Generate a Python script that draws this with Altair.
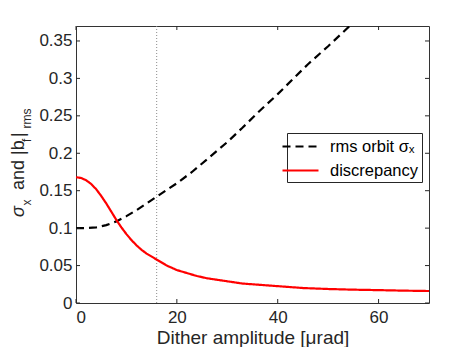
import altair as alt
import pandas as pd

FONT = "Liberation Sans"
TXT = "#262626"

# --- data ---
orbit_x = [0, 2, 4, 6, 8, 10, 12, 14, 16, 18, 20, 23, 26, 30, 33, 36, 40, 43, 46, 50, 53, 56]
orbit_y = [0.100, 0.100, 0.101, 0.104, 0.109, 0.116, 0.124, 0.133, 0.142, 0.151, 0.160,
           0.175, 0.192, 0.215, 0.234, 0.254, 0.279, 0.299, 0.319, 0.343, 0.362, 0.381]
disc_x = [0, 1, 2, 3, 4, 5, 6, 7, 8, 9, 10, 11, 12, 13, 14, 16, 18, 20, 22, 24, 26, 28, 30,
          33, 36, 40, 45, 50, 55, 60, 65, 70]
disc_y = [0.168, 0.167, 0.164, 0.159, 0.152, 0.143, 0.133, 0.122, 0.111, 0.101, 0.092, 0.084,
          0.077, 0.071, 0.066, 0.058, 0.050, 0.044, 0.040, 0.036, 0.033, 0.031, 0.029,
          0.026, 0.0245, 0.0225, 0.020, 0.0187, 0.0178, 0.0172, 0.0165, 0.016]
series_names = ["rms orbit σₓ", "discrepancy"]
series_colors = ["#000000", "#ff0000"]
series_dash = [[8, 5], [1, 0]]
x_ticks = [0, 20, 40, 60]
y_ticks = [0, 0.05, 0.1, 0.15, 0.2, 0.25, 0.3, 0.35]
marker_x = [16]
x_title = "Dither amplitude [μrad]"

W, H = 353, 277

df = pd.DataFrame({
    "x": orbit_x + disc_x,
    "y": orbit_y + disc_y,
    "series": [series_names[0]] * len(orbit_x) + [series_names[1]] * len(disc_x),
})

xscale = alt.Scale(domain=[0, 70], nice=False, zero=False)
yscale = alt.Scale(domain=[0, 0.37], nice=False, zero=False)
xaxis = alt.Axis(values=x_ticks, title=x_title, labelPadding=6, titlePadding=3,
                 titleFontSize=19, titleFontWeight="normal", labelFontSize=17,
                 labelFont=FONT, labelColor=TXT, titleFont=FONT, titleColor=TXT)
yaxis = alt.Axis(values=y_ticks, format=".2~f", title="", labelPadding=4, labelFontSize=17,
                 labelFont=FONT, labelColor=TXT, labelOverlap=False)

leg = alt.Legend(orient="none", legendX=211, legendY=107, title=None,
                 symbolType="M-2,0L2,0", symbolSize=324, symbolStrokeWidth=2.2,
                 labelFontSize=16.5, labelFont=FONT, labelColor="#000000", labelOffset=19,
                 padding=3, rowPadding=5, strokeColor="#262626", fillColor="white",
                 cornerRadius=0)

lines = alt.Chart(df).mark_line(clip=True, strokeWidth=2.2).encode(
    x=alt.X("x:Q", scale=xscale, axis=xaxis),
    y=alt.Y("y:Q", scale=yscale, axis=yaxis),
    color=alt.Color("series:N", scale=alt.Scale(domain=series_names, range=series_colors),
                    legend=leg),
    strokeDash=alt.StrokeDash("series:N", scale=alt.Scale(domain=series_names, range=series_dash),
                              legend=leg),
)

vline = alt.Chart(pd.DataFrame({"x": marker_x})).mark_rule(
    color="#8c8c8c", strokeDash=[1, 2], strokeWidth=1
).encode(x=alt.X("x:Q", scale=xscale, axis=xaxis))

ydf = pd.DataFrame({"y": y_ticks})
xdf = pd.DataFrame({"x": x_ticks})
tick_style = dict(color="#262626", strokeWidth=1)
yl = alt.Chart(ydf).mark_rule(**tick_style).encode(
    y=alt.Y("y:Q", scale=yscale, axis=yaxis), x=alt.value(0), x2=alt.value(4))
yr = alt.Chart(ydf).mark_rule(**tick_style).encode(
    y=alt.Y("y:Q", scale=yscale, axis=yaxis), x=alt.value(W - 4), x2=alt.value(W))
xb = alt.Chart(xdf).mark_rule(**tick_style).encode(
    x=alt.X("x:Q", scale=xscale, axis=xaxis), y=alt.value(H - 4), y2=alt.value(H))
xt = alt.Chart(xdf).mark_rule(**tick_style).encode(
    x=alt.X("x:Q", scale=xscale, axis=xaxis), y=alt.value(0), y2=alt.value(4))

# y-axis title with sub-scripts, built from pieces
def piece(txt, xpos, ypos, size, italic=False):
    kw = dict(text=txt, angle=270, align="left", baseline="alphabetic",
              fontSize=size, font=FONT, color=TXT)
    if italic:
        kw["fontStyle"] = "italic"
    return alt.Chart(alt.Data(values=[{}])).mark_text(**kw).encode(
        x=alt.value(xpos), y=alt.value(ypos))

ytitle = [
    piece("σ", -52.5, 191, 18, italic=True),
    piece("x", -45.5, 179.5, 12),
    piece("and |b", -52.5, 164, 18),
    piece("f", -45.5, 116, 12),
    piece("|", -52.5, 111, 18),
    piece("rms", -45.5, 102.5, 12),
]

chart = alt.layer(vline, lines, yl, yr, xb, xt, *ytitle).properties(
    width=W, height=H, autosize="none",
    padding={"left": 68, "top": 18, "right": 30, "bottom": 44},
).configure(font=FONT, background="white").configure_view(
    stroke="#333333", strokeWidth=1
).configure_axis(
    domain=False, ticks=False, grid=False, labelFont=FONT, labelFontSize=17,
    labelColor=TXT, titleFont=FONT, titleColor=TXT,
)

chart.save("out.html", embed_options={"renderer": "svg", "actions": False})
